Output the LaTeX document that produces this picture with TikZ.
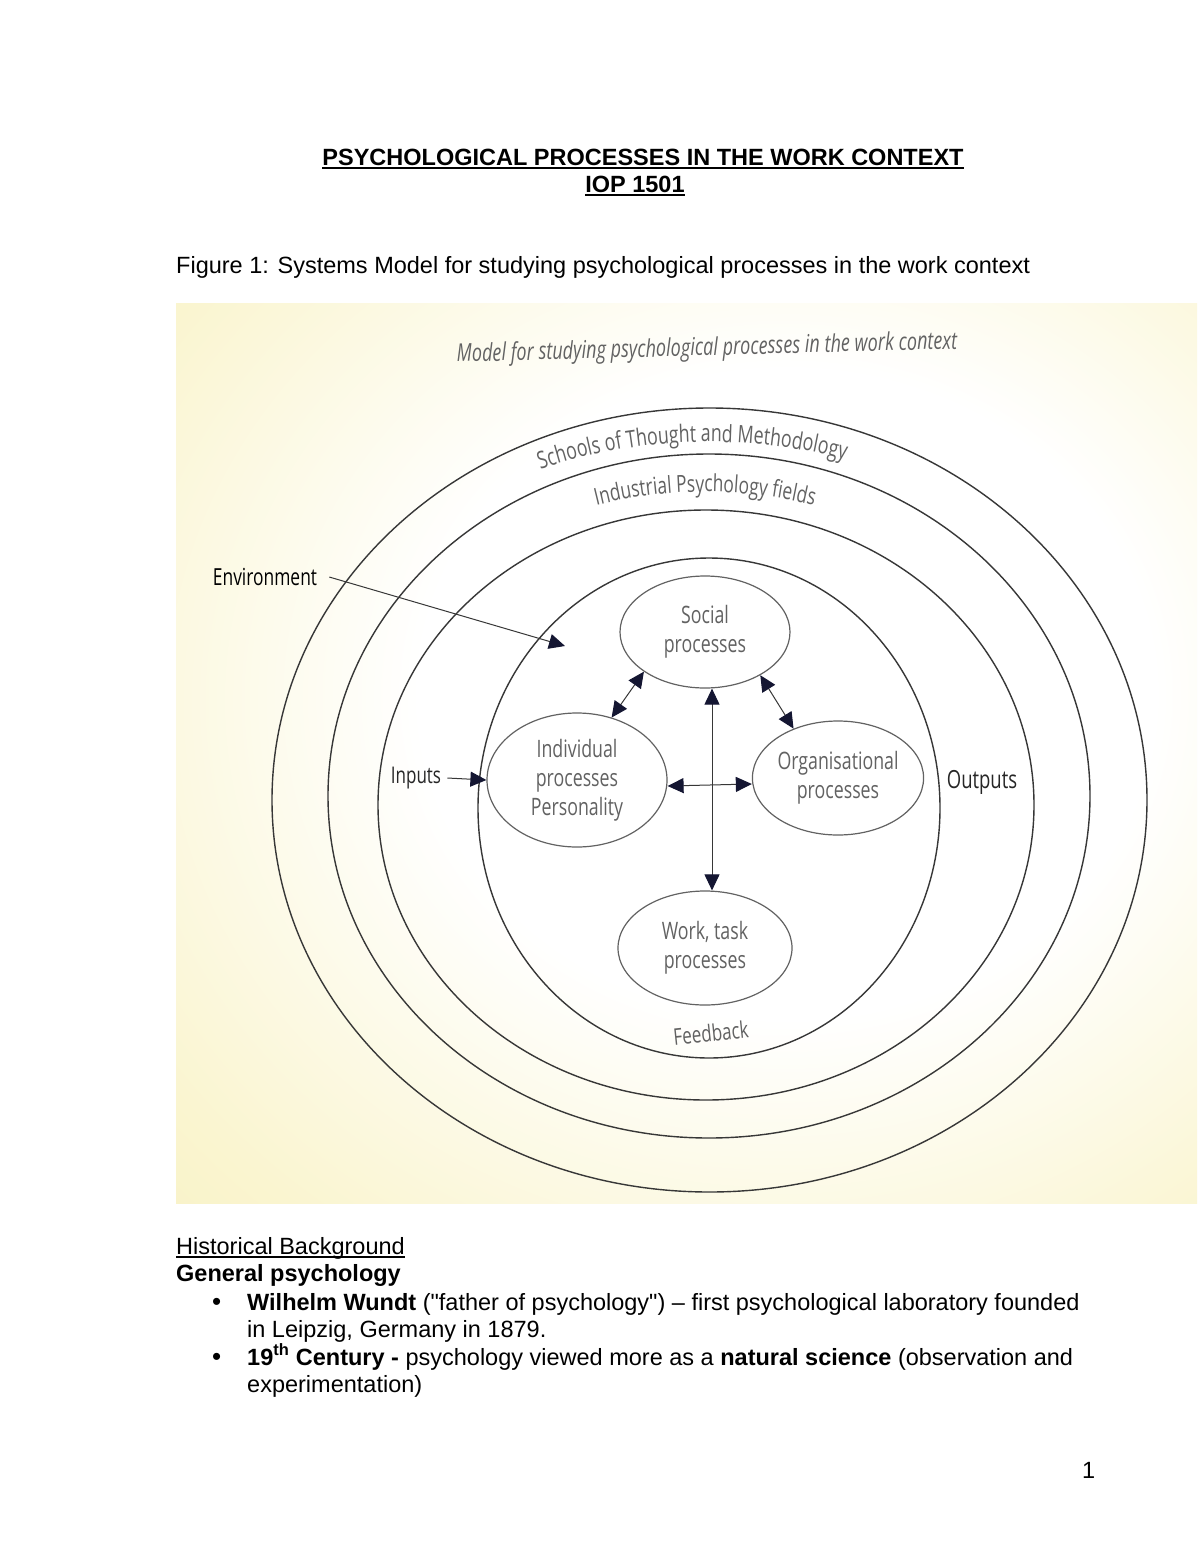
\documentclass[tikz,border=0pt]{standalone}
\usepackage{fontspec}
\setmainfont{Liberation Sans}
\newfontfamily\figfont[FakeStretch=0.74]{Open Sans}
\usepackage{tikz}
\usetikzlibrary{shapes, arrows.meta, decorations.text}
\definecolor{paper}{RGB}{250,245,208}
\definecolor{paperdark}{RGB}{244,234,172}
\definecolor{ink}{RGB}{20,22,50}
\definecolor{linegray}{RGB}{55,55,55}
\definecolor{textgray}{RGB}{98,98,98}
\pgfdeclareradialshading{paperglow}{\pgfpoint{6bp}{4bp}}{color(0bp)=(white); color(18bp)=(white);
    color(36bp)=(paper); color(58bp)=(paperdark); color(100bp)=(paperdark)}

\begin{document}
\begin{tikzpicture}[x=1pt, y=-1pt,
    body/.style={anchor=base west, inner sep=0pt, font=\fontsize{23.5}{27}\selectfont},
    ring/.style={draw=linegray, line width=1.4pt},
    proc/.style={ellipse, draw=textgray, line width=1.2pt, inner sep=0pt, align=center,
        text=textgray, font=\figfont\fontsize{24}{29}\selectfont},
    lbl/.style={inner sep=0pt, text=black!85, font=\figfont\fontsize{23}{28}\selectfont},
    arr/.style={-{Triangle[length=16pt, width=15pt, color=ink]}, color=linegray, line width=1pt},
    darr/.style={{Triangle[length=16pt, width=15pt, color=ink]}-{Triangle[length=16pt, width=15pt, color=ink]},
        color=linegray, line width=1pt}
]
    \fill[white] (0,0) rectangle (1200,1553);
    \shade[shading=paperglow] (176,303) rectangle (1197,1203);

    \node[body, anchor=base, font=\bfseries\fontsize{23.5}{27}\selectfont] (title) at (643,165)
        {PSYCHOLOGICAL PROCESSES IN THE WORK CONTEXT};
    \node[body, anchor=base, font=\bfseries\fontsize{23.5}{27}\selectfont] (code) at (635,192) {IOP 1501};
    \draw[line width=2pt] ([yshift=-3pt]title.base west) -- ([yshift=-3pt]title.base east);
    \draw[line width=2pt] ([yshift=-3pt]code.base west) -- ([yshift=-3pt]code.base east);
    \node[body] (caption) at (176,273)
        {Figure 1: Systems Model for studying psychological processes in the work context};

    \node[inner sep=0pt, rotate=1.5, text=textgray, font=\figfont\itshape\fontsize{24.5}{28}\selectfont] (model)
        at (707,349) {Model for studying psychological processes in the work context};

    \draw[ring] (709.5,800) ellipse [x radius=437.5, y radius=392];
    \draw[ring] (709,796) ellipse [x radius=381, y radius=342];
    \draw[ring] (706,805) ellipse [x radius=328, y radius=295];
    \draw[ring] (709,808) ellipse [x radius=231, y radius=250];

    \path[decorate, decoration={text along path, text align=center, text color=textgray,
        text={|\figfont\fontsize{24}{28}\selectfont|Schools of Thought and Methodology}}]
        (709,800) ++(190:440 and 358) arc[start angle=190, end angle=344.6, x radius=440, y radius=358];
    \path[decorate, decoration={text along path, text align=center, text color=textgray,
        text={|\figfont\fontsize{23.5}{28}\selectfont|Industrial Psychology fields}}]
        (705,805) ++(200:377 and 313) arc[start angle=200, end angle=340, x radius=377, y radius=313];

    \node[proc, minimum width=170pt, minimum height=112pt] (soc) at (705,632) {Social\\processes};
    \node[proc, minimum width=180pt, minimum height=134pt] (ind) at (577,780) {Individual\\processes\\Personality};
    \node[proc, minimum width=170pt, minimum height=114pt] (org) at (838,778) {Organisational\\processes};
    \node[proc, minimum width=174pt, minimum height=114pt] (work) at (705,948) {Work, task\\processes};

    \node[lbl, font=\figfont\fontsize{23.5}{28}\selectfont, text=black] (env) at (265,577) {Environment};
    \node[lbl] (inp) at (416,778) {Inputs};
    \node[lbl, font=\figfont\fontsize{25}{30}\selectfont] (outp) at (982,782) {Outputs};
    \node[lbl, text=textgray, rotate=6] (feed) at (711,1033) {Feedback};
    \coordinate (envtip) at (565,646);

    \path[arr]
        ([xshift=12pt]env.east) edge (envtip)
        ([xshift=6pt]inp.east) edge (ind.west);
    \path[darr]
        (soc.213) edge (ind.61)
        (soc.322) edge (org.132)
        ([xshift=7pt]soc.south) edge ([xshift=7pt]work.north)
        ([yshift=-6pt]ind.east) edge ([yshift=-6pt]org.west);

    \node[body] (hist) at (176,1254) {Historical Background};
    \draw[line width=1.5pt] ([yshift=-3pt]hist.base west) -- ([yshift=-3pt]hist.base east);
    \node[body, font=\bfseries\fontsize{23.5}{27}\selectfont] (genpsy) at (176,1281) {General psychology};
    \node[body, font=\fontsize{26}{27}\selectfont] (dot1) at (212,1310) {\textbullet};
    \node[body] (wundt) at (247,1310)
        {\textbf{Wilhelm Wundt} (\textquotedbl father of psychology\textquotedbl) – first psychological laboratory founded};
    \node[body] (leipzig) at (247,1337) {in Leipzig, Germany in 1879.};
    \node[body, font=\fontsize{26}{27}\selectfont] (dot2) at (212,1365) {\textbullet};
    \node[body] (century) at (247,1365)
        {\textbf{19\textsuperscript{th} Century -} psychology viewed more as a \textbf{natural science} (observation and};
    \node[body] (exper) at (247,1392) {experimentation)};
    \node[body] (pagenum) at (1082,1478) {1};
\end{tikzpicture}
\end{document}
